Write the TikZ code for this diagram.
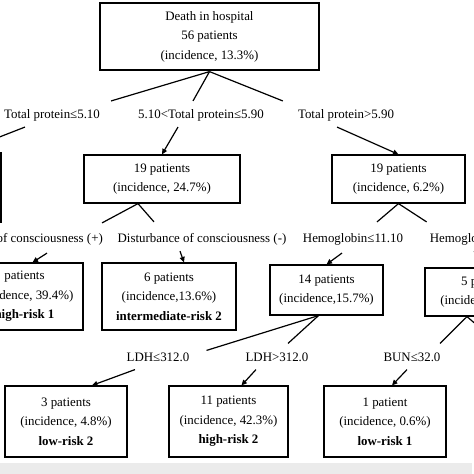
\documentclass[tikz,border=0pt]{standalone}
\usepackage{fontspec}
\setmainfont{Liberation Serif}
\usetikzlibrary{arrows.meta}

\begin{document}
\begin{tikzpicture}[
    x=1pt, y=-1pt,
    >={Triangle[length=5.5pt, width=5pt]},
    box/.style={draw, line width=1.2pt, align=center, inner sep=0pt,
        font=\fontsize{12.9}{19.5}\selectfont},
    cond/.style={inner sep=2pt, font=\fontsize{12.9}{15}\selectfont},
    branch/.style={line width=1.2pt},
    pick/.style={->, line width=1.2pt}
]

% Frame and grey strip at the bottom
\clip (0,0) rectangle (474,474);
\fill[white] (0,0) rectangle (474,474);
\fill[black!8] (0,463) rectangle (472,474);

% Root
\node[box, minimum width=219pt, minimum height=67pt] (root) at (209.5,36.5)
    {Death in hospital\\56 patients\\(incidence, 13.3\%)};

% Total protein split
\node[cond] (tpC1) at (52,115) {Total protein≤5.10};
\node[cond] (tpC2) at (201,115) {5.10<Total protein≤5.90};
\node[cond] (tpC3) at (346,115) {Total protein>5.90};

\node[box, minimum width=82pt, minimum height=69pt] (tpLow) at (-40,187.5) {};
\node[box, minimum width=156pt, minimum height=48pt] (tpMid) at (162,179)
    {19 patients\\(incidence, 24.7\%)};
\node[box, minimum width=133pt, minimum height=48pt] (tpHigh) at (398.5,179)
    {19 patients\\(incidence, 6.2\%)};

\draw[branch] ([yshift=-1pt]root.south) -- ([xshift=9pt, yshift=6pt]tpC1.north east);
\draw[branch] ([yshift=-1pt]root.south) -- ([xshift=-8pt, yshift=6pt]tpC2.north);
\draw[branch] ([yshift=-1pt]root.south) -- ([xshift=-13pt, yshift=6pt]tpC3.north west);

\draw[pick] ([xshift=-27pt, yshift=-4pt]tpC1.south) -- (tpLow.north);
\draw[pick] ([xshift=-23pt, yshift=-4pt]tpC2.south) -- (tpMid.north);
\draw[pick] ([xshift=-9pt, yshift=-4pt]tpC3.south) -- (tpHigh.north);

% Consciousness and hemoglobin split
\node[cond] (dcC1) at (17,239) {Disturbance of consciousness (+)};
\node[cond] (dcC2) at (202,239) {Disturbance of consciousness (-)};
\node[cond] (hbC1) at (353,239) {Hemoglobin≤11.10};
\node[cond] (hbC2) at (480,239) {Hemoglobin>11.10};

\node[box, minimum width=117pt, minimum height=67pt] (dcPos) at (24.5,296.5)
    {patients\\(incidence, 39.4\%)\\\textbf{high-risk 1}};
\node[box, minimum width=134pt, minimum height=67pt] (dcNeg) at (169,296.5)
    {6 patients\\(incidence,13.6\%)\\\textbf{intermediate-risk 2}};
\node[box, minimum width=113pt, minimum height=50pt] (hbLow) at (326.5,290)
    {14 patients\\(incidence,15.7\%)};
\node[box, minimum width=122pt, minimum height=48pt] (hbHigh) at (486,292)
    {5 patients\\(incidence, \phantom{0.0\%)}};

\draw[branch] ([xshift=-24pt]tpMid.south) -- ([xshift=-3pt, yshift=8pt]dcC1.north east);
\draw[branch] ([xshift=-24pt]tpMid.south) -- ([xshift=-48pt, yshift=9pt]dcC2.north);
\draw[branch] (tpHigh.south) -- ([xshift=24pt, yshift=9pt]hbC1.north);
\draw[branch] (tpHigh.south) -- ([xshift=-1pt, yshift=9pt]hbC2.north west);

\draw[pick] ([xshift=30pt, yshift=-6pt]dcC1.south) -- ([xshift=8pt]dcPos.north);
\draw[pick] ([xshift=-22pt, yshift=-4pt]dcC2.south) -- ([xshift=15pt]dcNeg.north);
\draw[pick] ([xshift=-11pt, yshift=-6pt]hbC1.south) -- (hbLow.north);
\draw[pick] ([xshift=-6pt, yshift=-4pt]hbC2.south) -- (hbHigh.north);

% LDH and BUN split
\node[cond] (ldhC1) at (158,357) {LDH≤312.0};
\node[cond] (ldhC2) at (277,357) {LDH>312.0};
\node[cond] (bunC1) at (412,357) {BUN≤32.0};
\coordinate (bunC2) at (500,345);

\node[box, minimum width=122pt, minimum height=71pt] (ldhLow) at (66,421.5)
    {3 patients\\(incidence, 4.8\%)\\\textbf{low-risk 2}};
\node[box, minimum width=119pt, minimum height=71pt] (ldhHigh) at (228.5,421.5)
    {11 patients\\(incidence, 42.3\%)\\\textbf{high-risk 2}};
\node[box, minimum width=122pt, minimum height=71pt] (bunLow) at (385,421.5)
    {1 patient\\(incidence, 0.6\%)\\\textbf{low-risk 1}};

\draw[branch] ([xshift=-8pt]hbLow.south) -- ([xshift=15pt]ldhC1.north east);
\draw[branch] ([xshift=-8pt]hbLow.south) -- ([xshift=11pt, yshift=7pt]ldhC2.north);
\draw[branch] ([xshift=-19pt]hbHigh.south) -- ([xshift=28pt, yshift=7pt]bunC1.north);
\draw[branch] ([xshift=-19pt]hbHigh.south) -- (bunC2);

\draw[pick] ([xshift=-23pt, yshift=-6pt]ldhC1.south) -- ([xshift=26pt]ldhLow.north);
\draw[pick] ([xshift=-21pt, yshift=-6pt]ldhC2.south) -- ([xshift=13pt]ldhHigh.north);
\draw[pick] ([xshift=-5pt, yshift=-6pt]bunC1.south) -- ([xshift=7pt]bunLow.north);

\end{tikzpicture}
\end{document}
